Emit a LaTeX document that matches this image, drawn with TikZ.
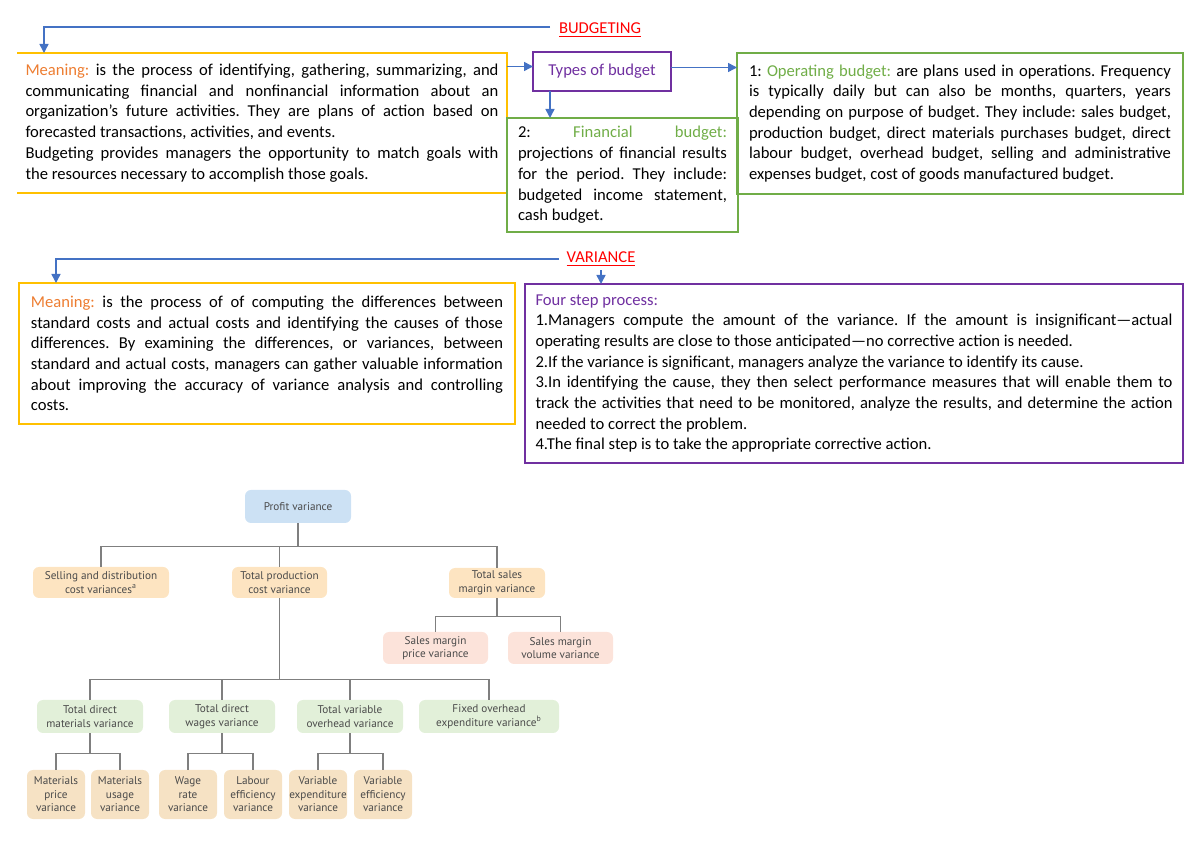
\documentclass[tikz,border=0pt]{standalone}
\usepackage{fontspec}
\setmainfont{Carlito}
\newfontfamily\treefont{PT Sans}
\usetikzlibrary{arrows.meta,calc}
\definecolor{ablue}{HTML}{4472C4}
\definecolor{borange}{HTML}{FFC000}
\definecolor{mgreen}{HTML}{70AD47}
\definecolor{mpurple}{HTML}{7030A0}
\definecolor{morange}{HTML}{ED7D31}
\definecolor{mred}{HTML}{FF0000}
\definecolor{tgray}{HTML}{4A4A4A}
\definecolor{tlinec}{HTML}{7F7F7F}
\definecolor{fblue}{HTML}{CCE1F4}
\definecolor{forange}{HTML}{FDE4C1}
\definecolor{fpink}{HTML}{FCE3DA}
\definecolor{fgreen}{HTML}{E2F0D9}
\definecolor{ftan}{HTML}{F6E2C4}
\setlength\parindent{0pt}
\frenchspacing
\newcommand{\jl}[1]{{\spaceskip=0pt\xspaceskip=0pt\makebox[\hsize][s]{#1}}}
\begin{document}
\begin{tikzpicture}[x=0.5pt,y=-0.5pt,
  txt/.style={font=\fontsize{8.3}{10.35}\selectfont, inner sep=0pt, outer sep=0pt, align=justify},
  bx/.style={txt, line width=1pt},
  conn/.style={draw=ablue, line width=0.75pt},
  arr/.style={conn, -{Triangle[length=4.5pt,width=4.5pt]}},
  lbl/.style={font=\fontsize{8.3}{9}\selectfont, text=mred, inner sep=0pt, outer sep=0pt},
  tn/.style={rounded corners=3pt, inner sep=0pt, align=center, text=tgray,
    font=\treefont\fontsize{5.6}{6.8}\selectfont},
  tl/.style={draw=tlinec, line width=0.8pt},
  l1/.style={tn, fill=fblue},
  l2/.style={tn, fill=forange},
  lp/.style={tn, fill=fpink},
  l3/.style={tn, fill=fgreen},
  l4/.style={tn, fill=ftan, minimum width=29pt, minimum height=24.5pt}
]
\useasboundingbox (0,0) rectangle (1200,849);

% ---------- BUDGETING ----------
\node[lbl] (bud) at (600,30) {\underline{BUDGETING}};

\node[bx, minimum width=245pt, minimum height=70pt, text width=236.5pt] (mb) at (262,123) {%
\jl{{\color{morange}Meaning:} is the process of identifying, gathering, summarizing, and}\\
\jl{communicating financial and nonfinancial information about an}\\
\jl{organization’s future activities. They are plans of action based on}\\
forecasted transactions, activities, and events.\\
\jl{Budgeting provides managers the opportunity to match goals with}\\
the resources necessary to accomplish those goals.};
\draw[draw=borange, line width=1pt] (mb.north west) -- (mb.north east) -- (mb.south east) -- (mb.south west);

\node[bx, draw=mpurple, minimum width=69pt, minimum height=19.5pt, text=mpurple] (tb) at (602,71.5) {Types of budget};

\node[bx, draw=mgreen, minimum width=115.5pt, minimum height=57pt, text width=104.5pt] (fb) at (622.5,175) {%
\jl{2: {\color{mgreen}Financial budget:}}\\
\jl{projections of financial results}\\
\jl{for the period. They include:}\\
\jl{budgeted income statement,}\\
cash budget.};

\node[bx, draw=mgreen, minimum width=223pt, minimum height=70.5pt, text width=211pt] (ob) at (960,123.5) {%
\jl{1: {\color{mgreen}Operating budget:} are plans used in operations. Frequency}\\
\jl{is typically daily but can also be months, quarters, years}\\
\jl{depending on purpose of budget. They include: sales budget,}\\
\jl{production budget, direct materials purchases budget, direct}\\
\jl{labour budget, overhead budget, selling and administrative}\\
expenses budget, cost of goods manufactured budget.};

\draw[arr] ([xshift=-4.5pt,yshift=1.5pt]bud.west) -| ([xshift=13.5pt]mb.north west);
\draw[arr] ([yshift=2.5pt]tb.west -| mb.east) -- ([yshift=2.5pt]tb.west);
\draw[arr] ([yshift=2pt]tb.east) -- ([yshift=2pt]tb.east -| ob.west);
\draw[arr] ([xshift=8.5pt]tb.south west) -- ([xshift=8.5pt]tb.south west |- fb.north);

% ---------- VARIANCE ----------
\node[lbl] (var) at (601,259) {\underline{VARIANCE}};

\node[bx, draw=borange, minimum width=248pt, minimum height=70.5pt, text width=236pt] (vm) at (267,353.5) {%
\jl{{\color{morange}Meaning:} is the process of of computing the differences between}\\
\jl{standard costs and actual costs and identifying the causes of those}\\
\jl{differences. By examining the differences, or variances, between}\\
\jl{standard and actual costs, managers can gather valuable information}\\
\jl{about improving the accuracy of variance analysis and controlling}\\
costs.};

\node[bx, draw=mpurple, minimum width=329pt, minimum height=89.5pt, text width=318.5pt] (fs) at (854,373.5) {%
{\color{mpurple}Four step process:}\\
\jl{1.Managers compute the amount of the variance. If the amount is insignificant—actual}\\
operating results are close to those anticipated—no corrective action is needed.\\
2.If the variance is significant, managers analyze the variance to identify its cause.\\
\jl{3.In identifying the cause, they then select performance measures that will enable them to}\\
\jl{track the activities that need to be monitored, analyze the results, and determine the action}\\
needed to correct the problem.\\
4.The final step is to take the appropriate corrective action.};

\draw[arr] ([xshift=-4pt]var.west) -| ([xshift=18.5pt]vm.north west);
\draw[arr] ([yshift=-2pt]var.south) -- (var.south |- fs.north);

% ---------- TREE ----------
\node[l1, minimum width=53pt, minimum height=16.5pt] (pv) at (298,506.5) {Profit variance};
\node[l2, minimum width=68pt, minimum height=15.5pt] (sd) at (101,582.5) {Selling and distribution\\cost variances\textsuperscript{a}};
\node[l2, minimum width=47.5pt, minimum height=15.5pt] (tp) at (279.5,582.5) {Total production\\cost variance};
\node[l2, minimum width=48pt, minimum height=15pt] (ts) at (497,583) {Total sales\\margin variance};
\node[lp, minimum width=52.5pt, minimum height=16pt] (smp) at (435.5,648) {Sales margin\\price variance};
\node[lp, minimum width=52.5pt, minimum height=16pt] (smv) at (560.5,648) {Sales margin\\volume variance};
\node[l3, minimum width=53pt, minimum height=16.5pt] (tdm) at (90,716.5) {Total direct\\materials variance};
\node[l3, minimum width=53pt, minimum height=16.5pt] (tdw) at (222,716.5) {Total direct\\wages variance};
\node[l3, minimum width=53pt, minimum height=16.5pt] (tvo) at (350,716.5) {Total variable\\overhead variance};
\node[l3, minimum width=70pt, minimum height=16.5pt] (fo) at (489,716.5) {Fixed overhead\\expenditure variance\textsuperscript{b}};
\node[l4] (mp) at (56,794.5) {Materials\\price\\variance};
\node[l4] (mu) at (120,794.5) {Materials\\usage\\variance};
\node[l4] (wr) at (188,794.5) {Wage\\rate\\variance};
\node[l4] (le) at (253,794.5) {Labour\\efficiency\\variance};
\node[l4] (ve) at (318,794.5) {Variable\\expenditure\\variance};
\node[l4] (vef) at (383,794.5) {Variable\\efficiency\\variance};

\draw[tl] (pv.south) -- ++(0,23) -| (sd.north);
\draw[tl] (pv.south) -- ++(0,23) -| (tp.north);
\draw[tl] (pv.south) -- ++(0,23) -| (ts.north);
\draw[tl] (ts.south) -- ++(0,18) -| (smp.north);
\draw[tl] (ts.south) -- ++(0,18) -| (smv.north);
\draw[tl] (tp.south) -- ++(0,81) -| (tdm.north);
\draw[tl] (tp.south) -- ++(0,81) -| (tdw.north);
\draw[tl] (tp.south) -- ++(0,81) -| (tvo.north);
\draw[tl] (tp.south) -- ++(0,81) -| (fo.north);
\draw[tl] (tdm.south) -- ++(0,20) -| (mp.north);
\draw[tl] (tdm.south) -- ++(0,20) -| (mu.north);
\draw[tl] (tdw.south) -- ++(0,20) -| (wr.north);
\draw[tl] (tdw.south) -- ++(0,20) -| (le.north);
\draw[tl] (tvo.south) -- ++(0,20) -| (ve.north);
\draw[tl] (tvo.south) -- ++(0,20) -| (vef.north);
\end{tikzpicture}
\end{document}
